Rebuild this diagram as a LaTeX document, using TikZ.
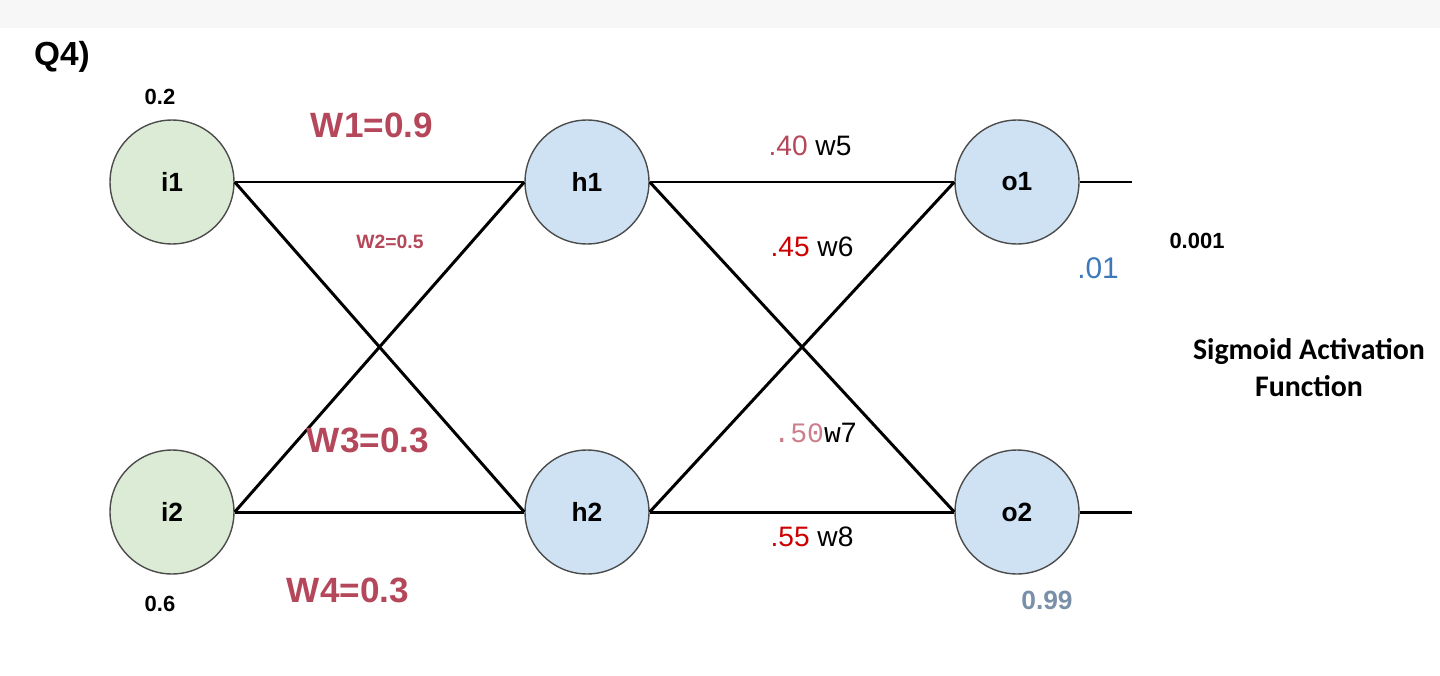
\documentclass[tikz,border=0pt]{standalone}
\usepackage{fontspec}
\setmainfont{Liberation Sans}
\newfontfamily\carl{Carlito}
\newfontfamily\monof{Liberation Mono}
\definecolor{wred}{HTML}{B5475A}
\definecolor{ngreen}{HTML}{DCEBD5}
\definecolor{nblue}{HTML}{CFE2F3}
\definecolor{lblue}{HTML}{3D78B8}
\definecolor{gblue}{HTML}{7A8FA8}
\begin{document}
\begin{tikzpicture}[x=0.02cm,y=-0.02cm,
  neur/.style={circle,draw=black!70,line width=0.8pt,minimum size=2.48cm,inner sep=0pt,font=\fontsize{15}{15}\selectfont\bfseries},
  conn/.style={line width=1.7pt,black},
  wl/.style={text=wred,font=\fontsize{20}{20}\selectfont\bfseries},
  lab/.style={font=\fontsize{12.5}{13}\selectfont\bfseries}]
\useasboundingbox (0,0) rectangle (1440,676);
\fill[black!3] (0,0) rectangle (1440,28);
\node[neur,fill=ngreen] (i1) at (172,182) {i1};
\node[neur,fill=ngreen] (i2) at (172,512) {i2};
\node[neur,fill=nblue] (h1) at (587,182) {h1};
\node[neur,fill=nblue] (h2) at (587,512) {h2};
\node[neur,fill=nblue] (o1) at (1017,182) {o1};
\node[neur,fill=nblue] (o2) at (1017,512) {o2};
\coordinate (e1) at (1132,182);
\coordinate (e2) at (1132,512);
\draw[conn] (i1.east) -- (h1.west); \draw[conn] (i1.east) -- (h2.west);
\draw[conn] (i2.east) -- (h1.west); \draw[conn] (i2.east) -- (h2.west);
\draw[conn] (h1.east) -- (o1.west); \draw[conn] (h1.east) -- (o2.west);
\draw[conn] (h2.east) -- (o1.west); \draw[conn] (h2.east) -- (o2.west);
\draw[conn] (o1) -- (e1); \draw[conn] (o2) -- (e2);
\node[font=\fontsize{19}{19}\selectfont\bfseries] (q) at (62,57) {Q4)};
\node[lab] (v1) at (160,97) {0.2};
\node[lab] (v2) at (160,604) {0.6};
\node[wl] (w1) at (372,125) {W1=0.9};
\node[text=wred,font=\fontsize{11}{11}\selectfont\bfseries] (w2) at (390,242) {W2=0.5};
\node[wl] (w3) at (368,440) {W3=0.3};
\node[wl] (w4) at (348,590) {W4=0.3};
\node[font=\fontsize{16}{16}\selectfont] (w5) at (810,146) {\textcolor{wred}{.40} w5};
\node[font=\fontsize{16}{16}\selectfont] (w6) at (812,247) {\textcolor{red!80!black}{.45} w6};
\node[font=\fontsize{16}{16}\selectfont] (w7) at (815,433) {\textcolor{wred!70}{\monof .50}{\monof w}7};
\node[font=\fontsize{16}{16}\selectfont] (w8) at (812,537) {\textcolor{red!80!black}{.55} w8};
\node[text=lblue,font=\fontsize{17}{17}\selectfont] (t1) at (1098,268) {.01};
\node[lab] (t2) at (1197,241) {0.001};
\node[text=gblue,font=\fontsize{15}{15}\selectfont\bfseries] (t3) at (1047,600) {0.99};
\node[font=\carl\fontsize{17}{21}\selectfont\bfseries,align=center] (sg) at (1309,368) {Sigmoid Activation\\Function};
\end{tikzpicture}
\end{document}
